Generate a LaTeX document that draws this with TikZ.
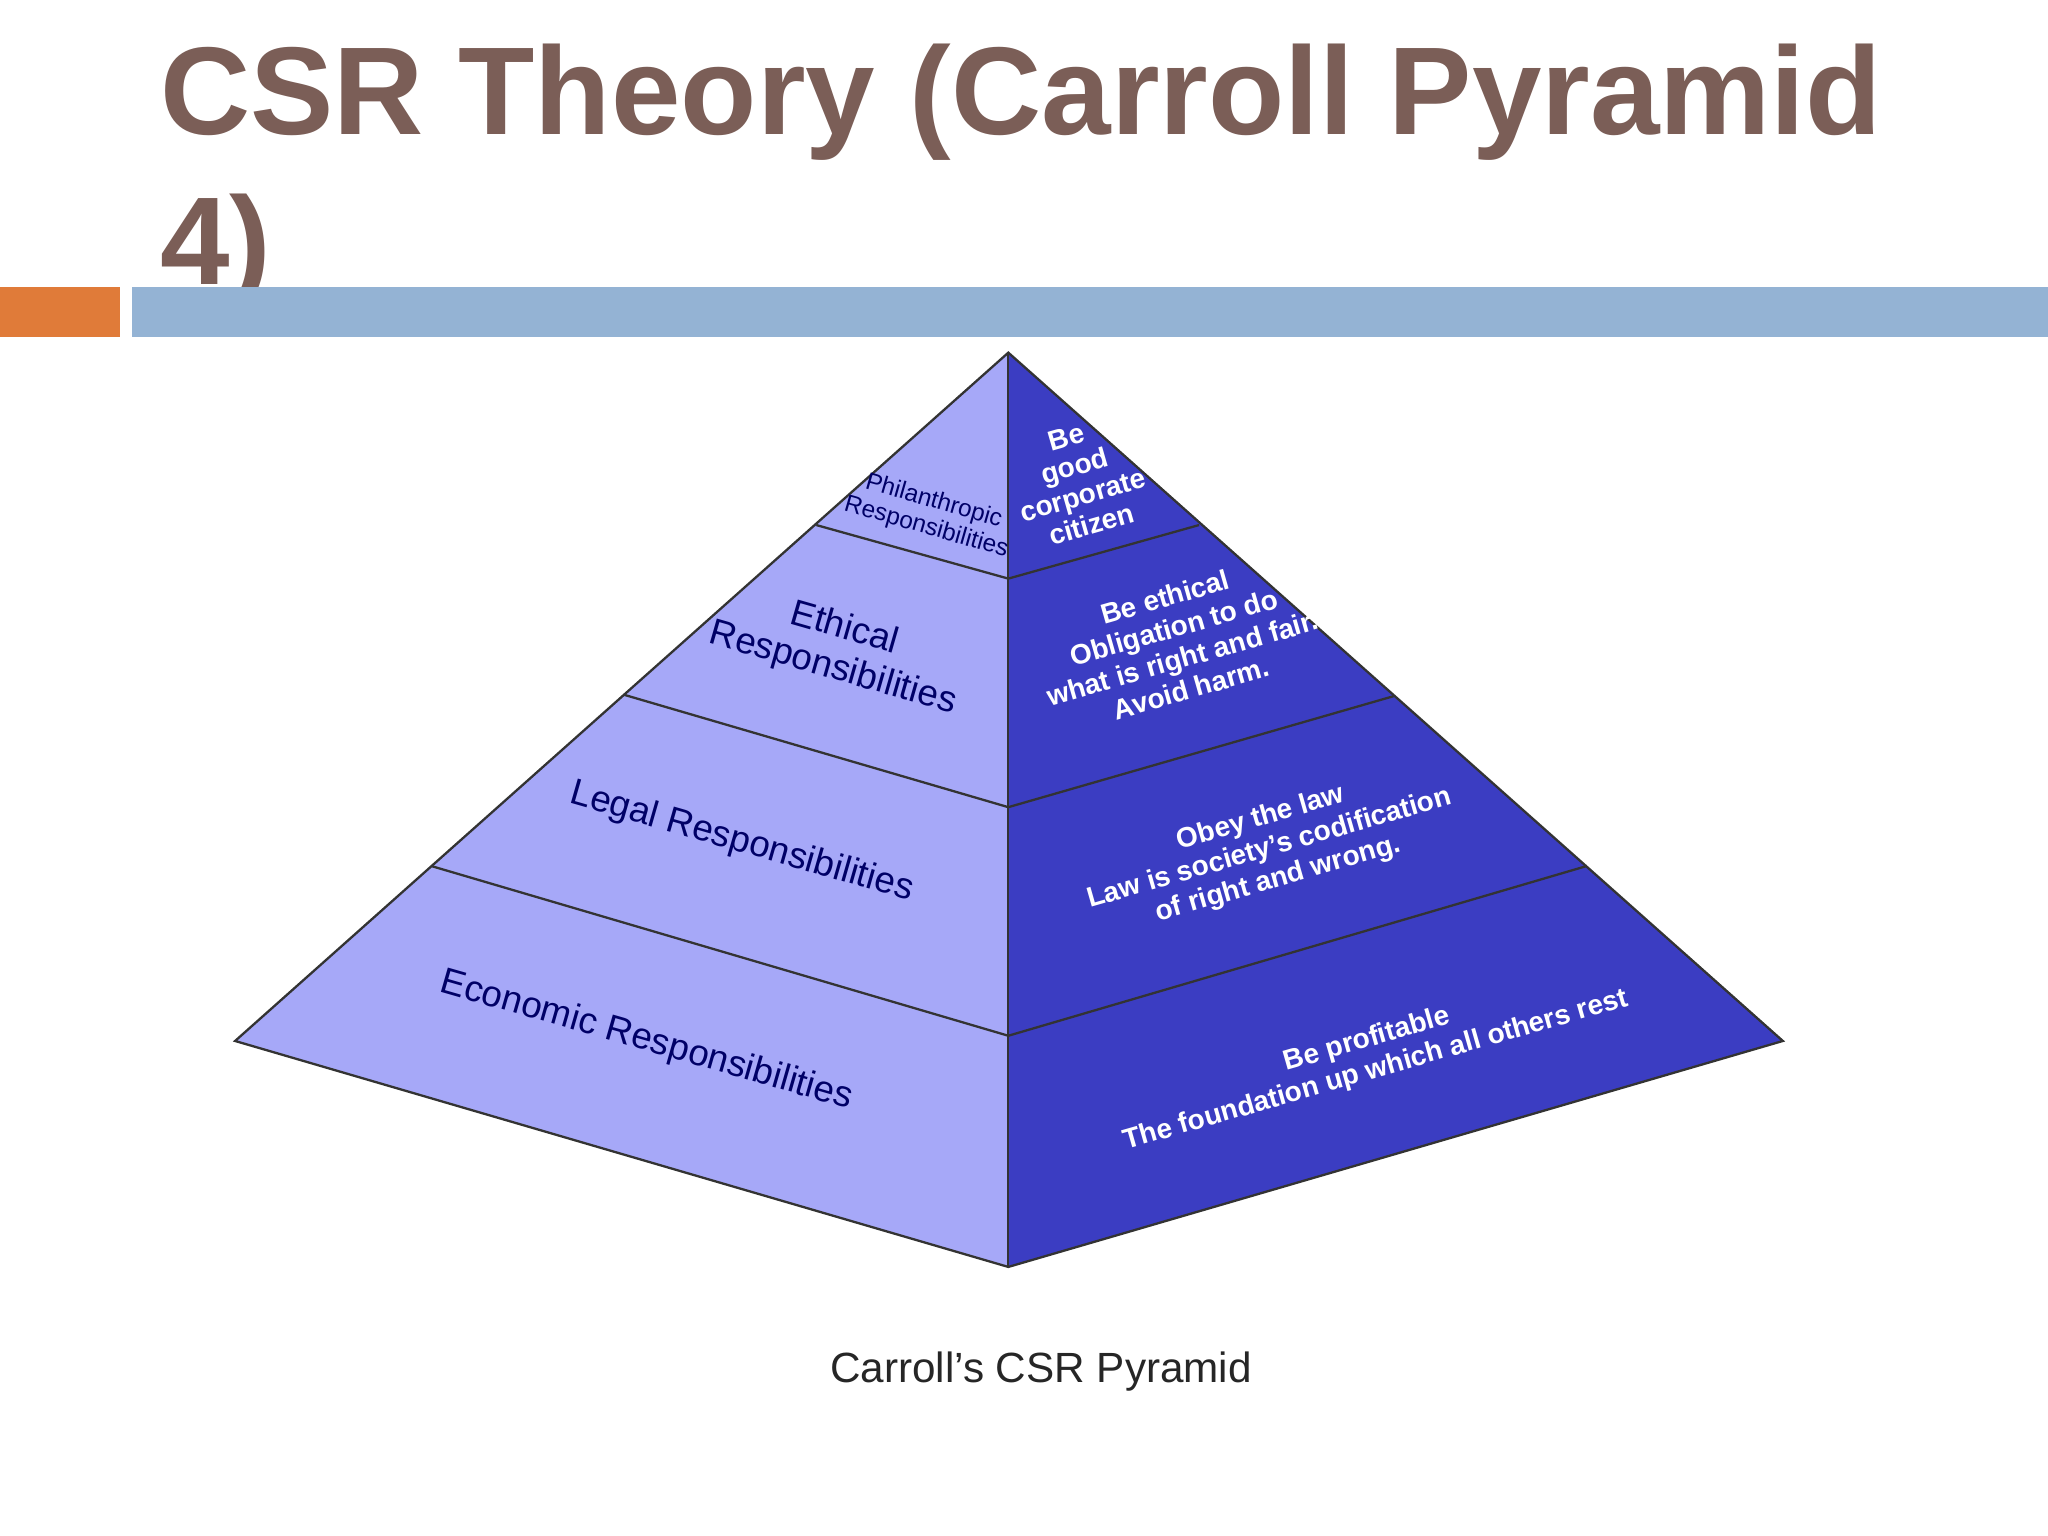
\documentclass[tikz,border=0pt]{standalone}
\usepackage{fontspec}
\setmainfont{Liberation Sans}
\begin{document}
\begin{tikzpicture}[x=0.01cm,y=-0.01cm,
  edge/.style={draw=black!80,line width=0.5pt},
  lt/.style={text=blue!30!black!85!blue,font=\fontsize{8.0}{9}\selectfont,align=center,rotate=-16},
  rt/.style={text=white,font=\bfseries\fontsize{6.1}{6.9}\selectfont,align=center,rotate=16}]
\definecolor{light}{HTML}{A6A8F8}
\definecolor{dark}{HTML}{3B3DC2}
\definecolor{title}{HTML}{7B5E57}
\definecolor{orangebar}{HTML}{E07B39}
\definecolor{bluebar}{HTML}{94B3D4}
\useasboundingbox (0,0) rectangle (1568,1176);
\fill[white] (0,0) rectangle (1568,1176);
\node[anchor=base west,text=title,font=\bfseries\fontsize{27.2}{32}\selectfont,inner sep=0] (t1) at (122,103) {CSR Theory (Carroll Pyramid};
\node[anchor=base west,text=title,font=\bfseries\fontsize{27.2}{32}\selectfont,inner sep=0] (t2) at (122,218) {4)};
\fill[orangebar] (0,220) rectangle (92,258);
\fill[bluebar] (101,220) rectangle (1568,258);
\coordinate (A) at (772,270);
\coordinate (L) at (180,797);
\coordinate (B) at (772,970);
\coordinate (R) at (1365,797);
\fill[light] (A) -- (L) -- (B) -- cycle;
\fill[dark] (A) -- (R) -- (B) -- cycle;
\draw[edge] (A) -- (L) -- (B) -- (R) -- cycle;
\draw[edge] (A) -- (B);
\coordinate (m1) at (772,443); \coordinate (m2) at (772,618); \coordinate (m3) at (772,793);
\draw[edge] (625,402) -- (m1) -- (918,402);
\draw[edge] (478,532) -- (m2) -- (1067,533);
\draw[edge] (330,663) -- (m3) -- (1215,663);
\node[lt,font=\fontsize{5.3}{5.9}\selectfont] (p) at (712,394) {Philanthropic\\Responsibilities};
\node[lt] (e) at (642,497) {Ethical\\Responsibilities};
\node[lt] (l) at (568,645) {Legal Responsibilities};
\node[lt] (ec) at (495,797) {Economic Responsibilities};
\node[rt,rotate=0,font=\bfseries\fontsize{6.1}{6.6}\selectfont] (rp) at (826,368) {Be\\good\\corporate\\citizen};
\node[rt] (re) at (902,492) {Be ethical\\Obligation to do\\what is right and fair.\\Avoid harm.};
\node[rt] (rl) at (972,650) {Obey the law\\Law is society's codification\\of right and wrong.};
\node[rt] (rec) at (1050,808) {Be profitable\\The foundation up which all others rest};
\node[font=\fontsize{9.2}{11}\selectfont,text=black!85] (c) at (797,1050) {Carroll’s CSR Pyramid};
\end{tikzpicture}
\end{document}
